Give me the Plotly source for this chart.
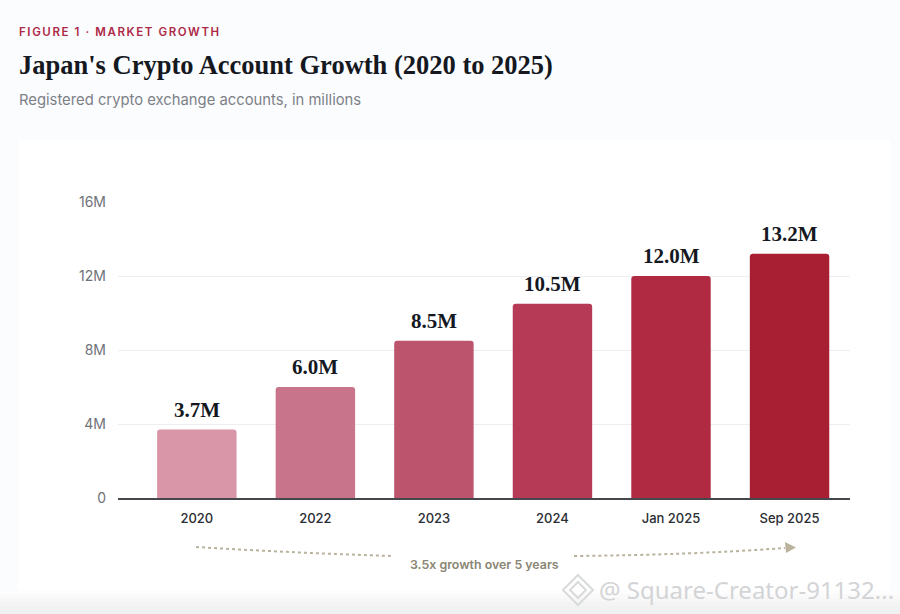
import plotly.graph_objects as go

categories = ["2020", "2022", "2023", "2024", "Jan 2025", "Sep 2025"]
accounts = [3.7, 6.0, 8.5, 10.5, 12.0, 13.2]
bar_labels = ["3.7M", "6.0M", "8.5M", "10.5M", "12.0M", "13.2M"]
bar_colors = ["#d896a8", "#c8748a", "#bc546d", "#b63a56", "#b02a42", "#a81f33"]
y_ticks = [0, 4, 8, 12, 16]
y_tick_labels = ["0", "4M", "8M", "12M", "16M"]

W, H = 900, 614
L, R, T, B = 118, 50, 202, 116
SERIF = "Liberation Serif"
SANS = "Inter"


def px(x):
    return (x - L) / (W - L - R)


def py(y):
    return (H - B - y) / (H - T - B)


def pt(x, y):
    return f"{px(x):.4f},{py(y):.4f}"


def rect(x0, y0, x1, y1, color):
    return dict(type="rect", xref="paper", yref="paper", layer="below",
                x0=px(x0), x1=px(x1), y0=py(y0), y1=py(y1),
                fillcolor=color, line_width=0)


def text(x, y, s, size, color, family=SANS, anchor="left", weight=400):
    return dict(xref="paper", yref="paper", x=px(x), y=py(y), text=s,
                showarrow=False, xanchor=anchor, yanchor="middle", align=anchor,
                font=dict(family=family, size=size, color=color, weight=weight))


fig = go.Figure(go.Bar(x=categories, y=accounts, width=0.67,
                       marker=dict(color=bar_colors, line_width=0, cornerradius=3),
                       hoverinfo="skip"))

# card and the grey fade along the bottom of the page
shapes = [rect(18, 140, 890, 606, "#ffffff")]
fade = ["#fdfdfd", "#fafafa", "#f7f7f7", "#f4f4f4", "#f1f2f2", "#eff0f0"]
for i, c in enumerate(fade):
    shapes.append(rect(0, 590 + i * 4, 900, 614, c))

# dotted growth arrows either side of the note
arrow = dict(type="path", xref="paper", yref="paper",
             line=dict(color="#b9b29c", width=2, dash="dot"))
shapes.append(dict(arrow, path=f"M{pt(196, 547)} Q{pt(295, 553)} {pt(393, 556)}"))
shapes.append(dict(arrow, path=f"M{pt(574, 556)} Q{pt(690, 555)} {pt(785, 548)}"))
shapes.append(dict(type="path", xref="paper", yref="paper", fillcolor="#b9b29c", line_width=0,
                   path=f"M{pt(785, 542)} L{pt(796, 547.5)} L{pt(786, 553)} Z"))

# watermark logo
for r in (15, 8):
    shapes.append(dict(type="path", xref="paper", yref="paper",
                       line=dict(color="#d9dadc", width=2),
                       path=f"M{pt(578, 590 - r)} L{pt(578 + r, 590)} L{pt(578, 590 + r)} L{pt(578 - r, 590)} Z"))

# category axis annotations take the serial number, "2020" would be read as a number
value_labels = [dict(x=i, y=v, text=s, showarrow=False, yanchor="bottom", yshift=6,
                     font=dict(family=SERIF, size=21, color="#15191f", weight=700))
                for i, (v, s) in enumerate(zip(accounts, bar_labels))]

fig.update_layout(
    width=W, height=H, autosize=False,
    margin=dict(l=L, r=R, t=T, b=B, pad=0),
    paper_bgcolor="#fbfcfe", plot_bgcolor="rgba(0,0,0,0)",
    showlegend=False, shapes=shapes,
    annotations=value_labels + [
        text(17, 32, "FIGURE 1 · MARKET GROWTH", 11.5, "#ad2a47", weight=600),
        text(17, 65, "Japan's Crypto Account Growth (2020 to 2025)", 26.5, "#15191f", family=SERIF, weight=700),
        text(17, 100, "Registered crypto exchange accounts, in millions", 14.8, "#7d8087"),
        text(484, 564, "3.5x growth over 5 years", 12.4, "#8a8674", anchor="center", weight=600),
        text(597, 589, "@ Square-Creator-91132...", 24, "#d3d4d6", family="Noto Sans"),
    ],
    xaxis=dict(type="category", range=[-0.665, 5.51], showgrid=False, ticks="",
               showline=True, linecolor="#45474d", linewidth=2, ticklabelstandoff=7,
               tickfont=dict(family=SANS, size=13, color="#2a2d33", weight=500)),
    yaxis=dict(range=[0, 16], tickvals=y_ticks, ticktext=y_tick_labels, ticks="",
               showline=False, zeroline=False, gridcolor="#eceef0", gridwidth=1,
               ticklabelstandoff=11,
               tickfont=dict(family=SANS, size=14, color="#6f7278")),
)

# page margin off, and the letter spacing of the small heading
fig.write_html("out.html", config=dict(displayModeBar=False), post_script="""
document.body.style.margin = '0';
document.querySelectorAll('.annotation-text').forEach(function (t) {
    if (t.textContent.indexOf('FIGURE 1') === 0) t.style.letterSpacing = '1.6px';
});
""")
